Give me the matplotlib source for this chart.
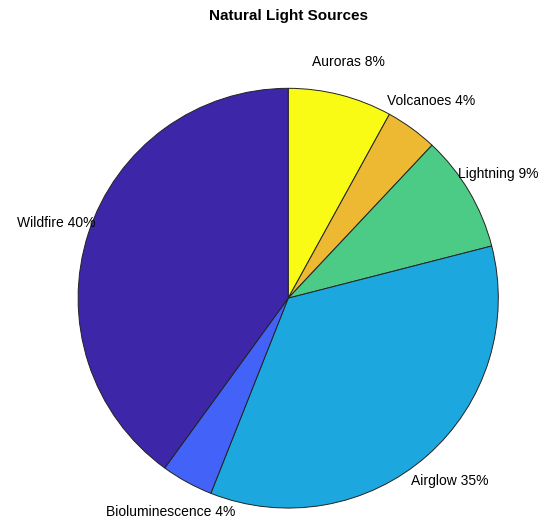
import matplotlib
matplotlib.use("Agg")
import matplotlib.pyplot as plt

names = ["Auroras", "Volcanoes", "Lightning", "Airglow", "Bioluminescence", "Wildfire"]
values = [8, 4, 9, 35, 4, 40]
colors = ["#F9FB15", "#EDB932", "#4BCB85", "#1CA8DF", "#4363F8", "#3D26A8"]

plt.rcParams['font.family'] = ['Liberation Sans', 'DejaVu Sans']
fig = plt.figure(figsize=(5.5, 5.32), dpi=100)
ax = fig.add_axes([0.142, 0.045, 0.764, 0.789])
labels = [f"{n} {v}%" for n, v in zip(names, values)]
wedges, texts = ax.pie(values, labels=labels, colors=colors, startangle=90, counterclock=False,
       labeldistance=1.16, wedgeprops=dict(edgecolor="#222222", linewidth=0.7),
       textprops=dict(fontsize=10))
for t in texts:
    t.set_ha("center")
    t.set_va("center")
ax.set_aspect('auto')
ax.set_xlim(-1, 1); ax.set_ylim(-1, 1)
fig.text(0.524, 0.97, "Natural Light Sources", ha="center", va="center",
         fontsize=11, fontweight="bold")
fig.savefig("out.png", dpi=100)
